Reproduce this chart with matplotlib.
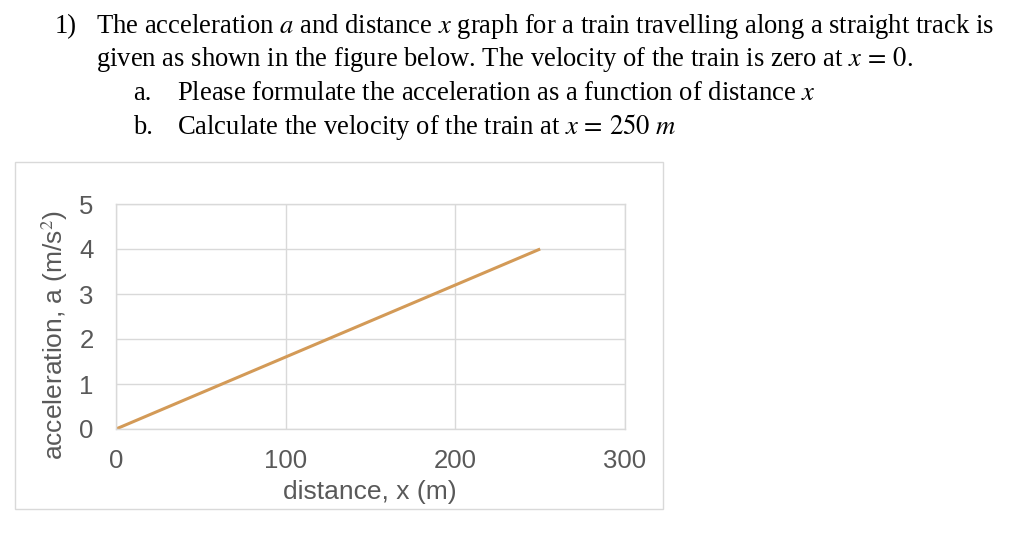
import matplotlib.pyplot as plt
from matplotlib.patches import Rectangle

# data
distance = [0, 250]
acceleration = [0, 4]
x_ticks = [0, 100, 200, 300]
y_ticks = [0, 1, 2, 3, 4, 5]

question_lines = [
    ("1)", "The acceleration $a$ and distance $x$ graph for a train travelling along a straight track is"),
    ("", "given as shown in the figure below. The velocity of the train is zero at $x\\,=\\,0$."),
    ("a.", "Please formulate the acceleration as a function of distance $x$"),
    ("b.", "Calculate the velocity of the train at $x\\,=\\,250\\ m$"),
]

plt.rcParams['mathtext.fontset'] = 'stix'

W, H = 1024, 536
fig = plt.figure(figsize=(W / 100, H / 100), dpi=100)
fig.patch.set_facecolor('white')

# question text
serif = 'Liberation Serif'
baselines = [33, 66, 100, 134]
for i, (num, txt) in enumerate(question_lines):
    y = 1 - baselines[i] / H
    if i < 2:
        xn, xt = 55, 96
    else:
        xn, xt = 133, 177
    if num:
        fig.text(xn / W, y, num, family=serif, fontsize=19.2, va='baseline', ha='left')
    fig.text(xt / W, y, txt, family=serif, fontsize=19.2, va='baseline', ha='left')

# chart frame
fig.patches.append(Rectangle((15 / W, 1 - 509 / H), (663 - 15) / W, (509 - 162) / H,
                             transform=fig.transFigure, fill=False,
                             edgecolor='#d9d9d9', linewidth=1))

ax = fig.add_axes([116 / W, 1 - 429 / H, (625 - 116) / W, (429 - 204) / H])
ax.plot(distance, acceleration, color='#d39a57', linewidth=2.2, solid_capstyle='butt')
ax.set_xlim(0, 300)
ax.set_ylim(0, 5)
ax.set_xticks(x_ticks)
ax.set_yticks(y_ticks)
ax.grid(True, color='#d9d9d9', linewidth=1)
ax.set_axisbelow(True)
for s in ax.spines.values():
    s.set_color('#d9d9d9')
    s.set_linewidth(1)
ax.tick_params(length=0, labelsize=18.5, colors='#595959')
ax.tick_params(axis='x', pad=14.5)
ax.tick_params(axis='y', pad=16)
for lbl in ax.get_xticklabels() + ax.get_yticklabels():
    lbl.set_family('Liberation Sans')

fig.text(370 / W, 1 - 492 / H, "distance, x (m)", ha='center', va='center',
         fontsize=19, color='#595959', family='Liberation Sans')
fig.text(55 / W, 1 - 335 / H, "acceleration, a (m/s$^2$)", ha='center', va='center',
         rotation=90, fontsize=19, color='#595959', family='Liberation Sans')

plt.rcParams['mathtext.rm'] = 'Liberation Sans'
plt.savefig('out.png', dpi=100)
plt.close()
